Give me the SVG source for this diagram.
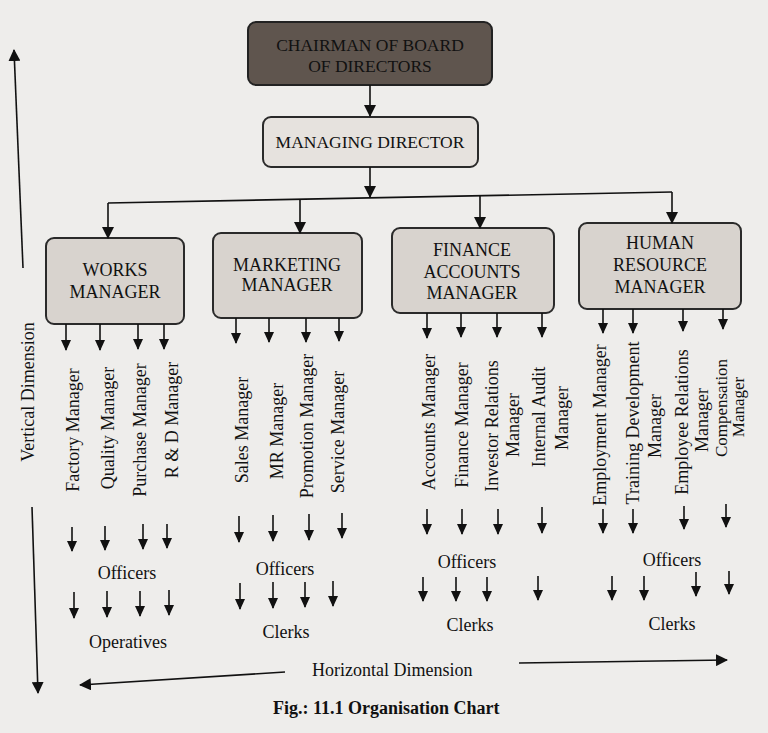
<svg xmlns="http://www.w3.org/2000/svg" width="768" height="733" viewBox="0 0 768 733">
<defs>
<marker id="ah" markerUnits="userSpaceOnUse" markerWidth="12" markerHeight="12" refX="11" refY="6" orient="auto">
<path d="M0,0 L12,6 L0,12 z" fill="#111"/>
</marker>
<marker id="ahs" markerUnits="userSpaceOnUse" markerWidth="11" markerHeight="11" refX="10" refY="5.5" orient="auto">
<path d="M0,0.5 L11,5.5 L0,10.5 z" fill="#111"/>
</marker>
</defs>
<style>
.t{font-family:"Liberation Serif","Times New Roman",serif;fill:#111;}
.box{font-size:18px;text-anchor:middle;}
.rot{font-size:18px;text-anchor:middle;}
.lbl{font-size:18px;text-anchor:middle;}
.ln{stroke:#111;stroke-width:1.6;fill:none;}
.arr{stroke:#111;stroke-width:1.6;fill:none;marker-end:url(#ah);}
.sarr{stroke:#111;stroke-width:1.6;fill:none;marker-end:url(#ahs);}
.mgr{fill:#d8d3ce;stroke:#2a2a2a;stroke-width:2;}
</style>
<rect x="0" y="0" width="768" height="733" fill="#eeedeb"/>

<g id="chairman">
<rect x="248" y="22" width="244" height="63" rx="8" fill="#5f554e" stroke="#222" stroke-width="2"/>
<text class="t box" x="370" y="51" style="font-size:17.5px">CHAIRMAN OF BOARD</text>
<text class="t box" x="370" y="72" style="font-size:17.5px">OF DIRECTORS</text>
</g>

<g id="managing-director">
<rect x="263" y="117" width="215" height="50" rx="8" fill="#e6e2de" stroke="#2a2a2a" stroke-width="2"/>
<text class="t box" x="370" y="148" style="font-size:17.5px">MANAGING DIRECTOR</text>
</g>

<g id="works-manager">
<rect class="mgr" x="46" y="238" width="138" height="86" rx="8"/>
<text class="t box" x="115" y="276">WORKS</text>
<text class="t box" x="115" y="298">MANAGER</text>
</g>

<g id="marketing-manager">
<rect class="mgr" x="213" y="233" width="149" height="85" rx="8"/>
<text class="t box" x="287" y="271">MARKETING</text>
<text class="t box" x="287" y="291">MANAGER</text>
</g>

<g id="finance-manager">
<rect class="mgr" x="392" y="228" width="162" height="85" rx="8"/>
<text class="t box" x="472" y="256">FINANCE</text>
<text class="t box" x="472" y="278">ACCOUNTS</text>
<text class="t box" x="472" y="299">MANAGER</text>
</g>

<g id="hr-manager">
<rect class="mgr" x="579" y="223" width="162" height="86" rx="8"/>
<text class="t box" x="660" y="249">HUMAN</text>
<text class="t box" x="660" y="271">RESOURCE</text>
<text class="t box" x="660" y="293">MANAGER</text>
</g>

<g id="works-subordinates">
<text class="t rot" transform="translate(79,430) rotate(-90)">Factory Manager</text>
<text class="t rot" transform="translate(114,428) rotate(-90)">Quality Manager</text>
<text class="t rot" transform="translate(146,430) rotate(-90)">Purchase Manager</text>
<text class="t rot" transform="translate(178,420) rotate(-90)">R &amp; D Manager</text>
</g>

<g id="marketing-subordinates">
<text class="t rot" transform="translate(248,430) rotate(-90)">Sales Manager</text>
<text class="t rot" transform="translate(283,431) rotate(-90)">MR Manager</text>
<text class="t rot" transform="translate(313,426) rotate(-90)">Promotion Manager</text>
<text class="t rot" transform="translate(344,432) rotate(-90)">Service Manager</text>
</g>

<g id="finance-subordinates">
<text class="t rot" transform="translate(435,422) rotate(-90)">Accounts Manager</text>
<text class="t rot" transform="translate(468,425) rotate(-90)">Finance Manager</text>
<text class="t rot" transform="translate(498,426) rotate(-90)">Investor Relations</text>
<text class="t rot" transform="translate(519,425) rotate(-90)">Manager</text>
<text class="t rot" transform="translate(545,417) rotate(-90)">Internal Audit</text>
<text class="t rot" transform="translate(568,418) rotate(-90)">Manager</text>
</g>

<g id="hr-subordinates">
<text class="t rot" transform="translate(606,425) rotate(-90)">Employment Manager</text>
<text class="t rot" transform="translate(639,423) rotate(-90)">Training Development</text>
<text class="t rot" transform="translate(661,426) rotate(-90)">Manager</text>
<text class="t rot" transform="translate(688,422) rotate(-90)">Employee Relations</text>
<text class="t rot" transform="translate(708,420) rotate(-90)">Manager</text>
<text class="t rot" style="font-size:17px" transform="translate(727,408) rotate(-90)">Compensation</text>
<text class="t rot" style="font-size:17px" transform="translate(744,407) rotate(-90)">Manager</text>
</g>

<g id="lower-levels">
<text class="t lbl" x="127" y="579">Officers</text>
<text class="t lbl" x="128" y="648">Operatives</text>
<text class="t lbl" x="285" y="575">Officers</text>
<text class="t lbl" x="286" y="638">Clerks</text>
<text class="t lbl" x="467" y="568">Officers</text>
<text class="t lbl" x="470" y="631">Clerks</text>
<text class="t lbl" x="672" y="566">Officers</text>
<text class="t lbl" x="672" y="630">Clerks</text>
</g>

<g id="dimensions">
<text class="t rot" transform="translate(34,392) rotate(-90)">Vertical Dimension</text>
<text class="t" x="312" y="676" style="font-size:18px">Horizontal Dimension</text>
<line class="arr" x1="23" y1="268" x2="14" y2="50"/>
<line class="arr" x1="32" y1="507" x2="38" y2="693"/>
<line class="arr" x1="285" y1="672" x2="80" y2="685"/>
<line class="arr" x1="519" y1="663" x2="727" y2="660"/>
</g>

<g id="caption">
<text class="t" x="273" y="714" style="font-size:18px;font-weight:bold">Fig.: 11.1 Organisation Chart</text>
</g>

<g id="connectors">
<line class="arr" x1="370" y1="85" x2="370" y2="116"/>
<line class="arr" x1="370" y1="167" x2="370" y2="197"/>
<line class="ln" x1="108" y1="203" x2="672" y2="192"/>
<line class="arr" x1="108" y1="203" x2="108" y2="238"/>
<line class="arr" x1="300" y1="199" x2="300" y2="233"/>
<line class="arr" x1="480" y1="196" x2="480" y2="228"/>
<line class="arr" x1="672" y1="192" x2="672" y2="223"/>

<line class="sarr" x1="66" y1="324" x2="66" y2="350"/>
<line class="sarr" x1="100" y1="324" x2="100" y2="350"/>
<line class="sarr" x1="138" y1="324" x2="138" y2="349"/>
<line class="sarr" x1="164" y1="324" x2="164" y2="349"/>
<line class="sarr" x1="236" y1="318" x2="236" y2="343"/>
<line class="sarr" x1="269" y1="318" x2="269" y2="342"/>
<line class="sarr" x1="306" y1="318" x2="306" y2="342"/>
<line class="sarr" x1="339" y1="318" x2="339" y2="341"/>
<line class="sarr" x1="427" y1="313" x2="427" y2="338"/>
<line class="sarr" x1="461" y1="313" x2="461" y2="337"/>
<line class="sarr" x1="497" y1="313" x2="497" y2="337"/>
<line class="sarr" x1="542" y1="313" x2="542" y2="337"/>
<line class="sarr" x1="603" y1="309" x2="603" y2="333"/>
<line class="sarr" x1="633" y1="309" x2="633" y2="333"/>
<line class="sarr" x1="683" y1="309" x2="683" y2="331"/>
<line class="sarr" x1="723" y1="309" x2="723" y2="329"/>

<line class="sarr" x1="72" y1="527" x2="72" y2="551"/>
<line class="sarr" x1="105" y1="526" x2="105" y2="550"/>
<line class="sarr" x1="143" y1="524" x2="143" y2="549"/>
<line class="sarr" x1="167" y1="524" x2="167" y2="548"/>
<line class="sarr" x1="74" y1="592" x2="74" y2="618"/>
<line class="sarr" x1="107" y1="591" x2="107" y2="617"/>
<line class="sarr" x1="140" y1="591" x2="140" y2="616"/>
<line class="sarr" x1="169" y1="590" x2="169" y2="615"/>

<line class="sarr" x1="239" y1="516" x2="239" y2="542"/>
<line class="sarr" x1="273" y1="515" x2="273" y2="541"/>
<line class="sarr" x1="309" y1="514" x2="309" y2="540"/>
<line class="sarr" x1="342" y1="513" x2="342" y2="538"/>
<line class="sarr" x1="240" y1="583" x2="240" y2="609"/>
<line class="sarr" x1="273" y1="582" x2="273" y2="608"/>
<line class="sarr" x1="305" y1="582" x2="305" y2="607"/>
<line class="sarr" x1="333" y1="581" x2="333" y2="606"/>

<line class="sarr" x1="427" y1="509" x2="427" y2="534"/>
<line class="sarr" x1="462" y1="509" x2="462" y2="534"/>
<line class="sarr" x1="498" y1="509" x2="498" y2="534"/>
<line class="sarr" x1="542" y1="507" x2="542" y2="533"/>
<line class="sarr" x1="423" y1="577" x2="423" y2="601"/>
<line class="sarr" x1="456" y1="577" x2="456" y2="601"/>
<line class="sarr" x1="487" y1="577" x2="487" y2="601"/>
<line class="sarr" x1="538" y1="576" x2="538" y2="600"/>

<line class="sarr" x1="603" y1="509" x2="603" y2="533"/>
<line class="sarr" x1="633" y1="509" x2="633" y2="533"/>
<line class="sarr" x1="684" y1="506" x2="684" y2="529"/>
<line class="sarr" x1="726" y1="504" x2="726" y2="527"/>
<line class="sarr" x1="612" y1="576" x2="612" y2="600"/>
<line class="sarr" x1="644" y1="576" x2="644" y2="600"/>
<line class="sarr" x1="696" y1="572" x2="696" y2="596"/>
<line class="sarr" x1="729" y1="571" x2="729" y2="594"/>
</g>
</svg>
